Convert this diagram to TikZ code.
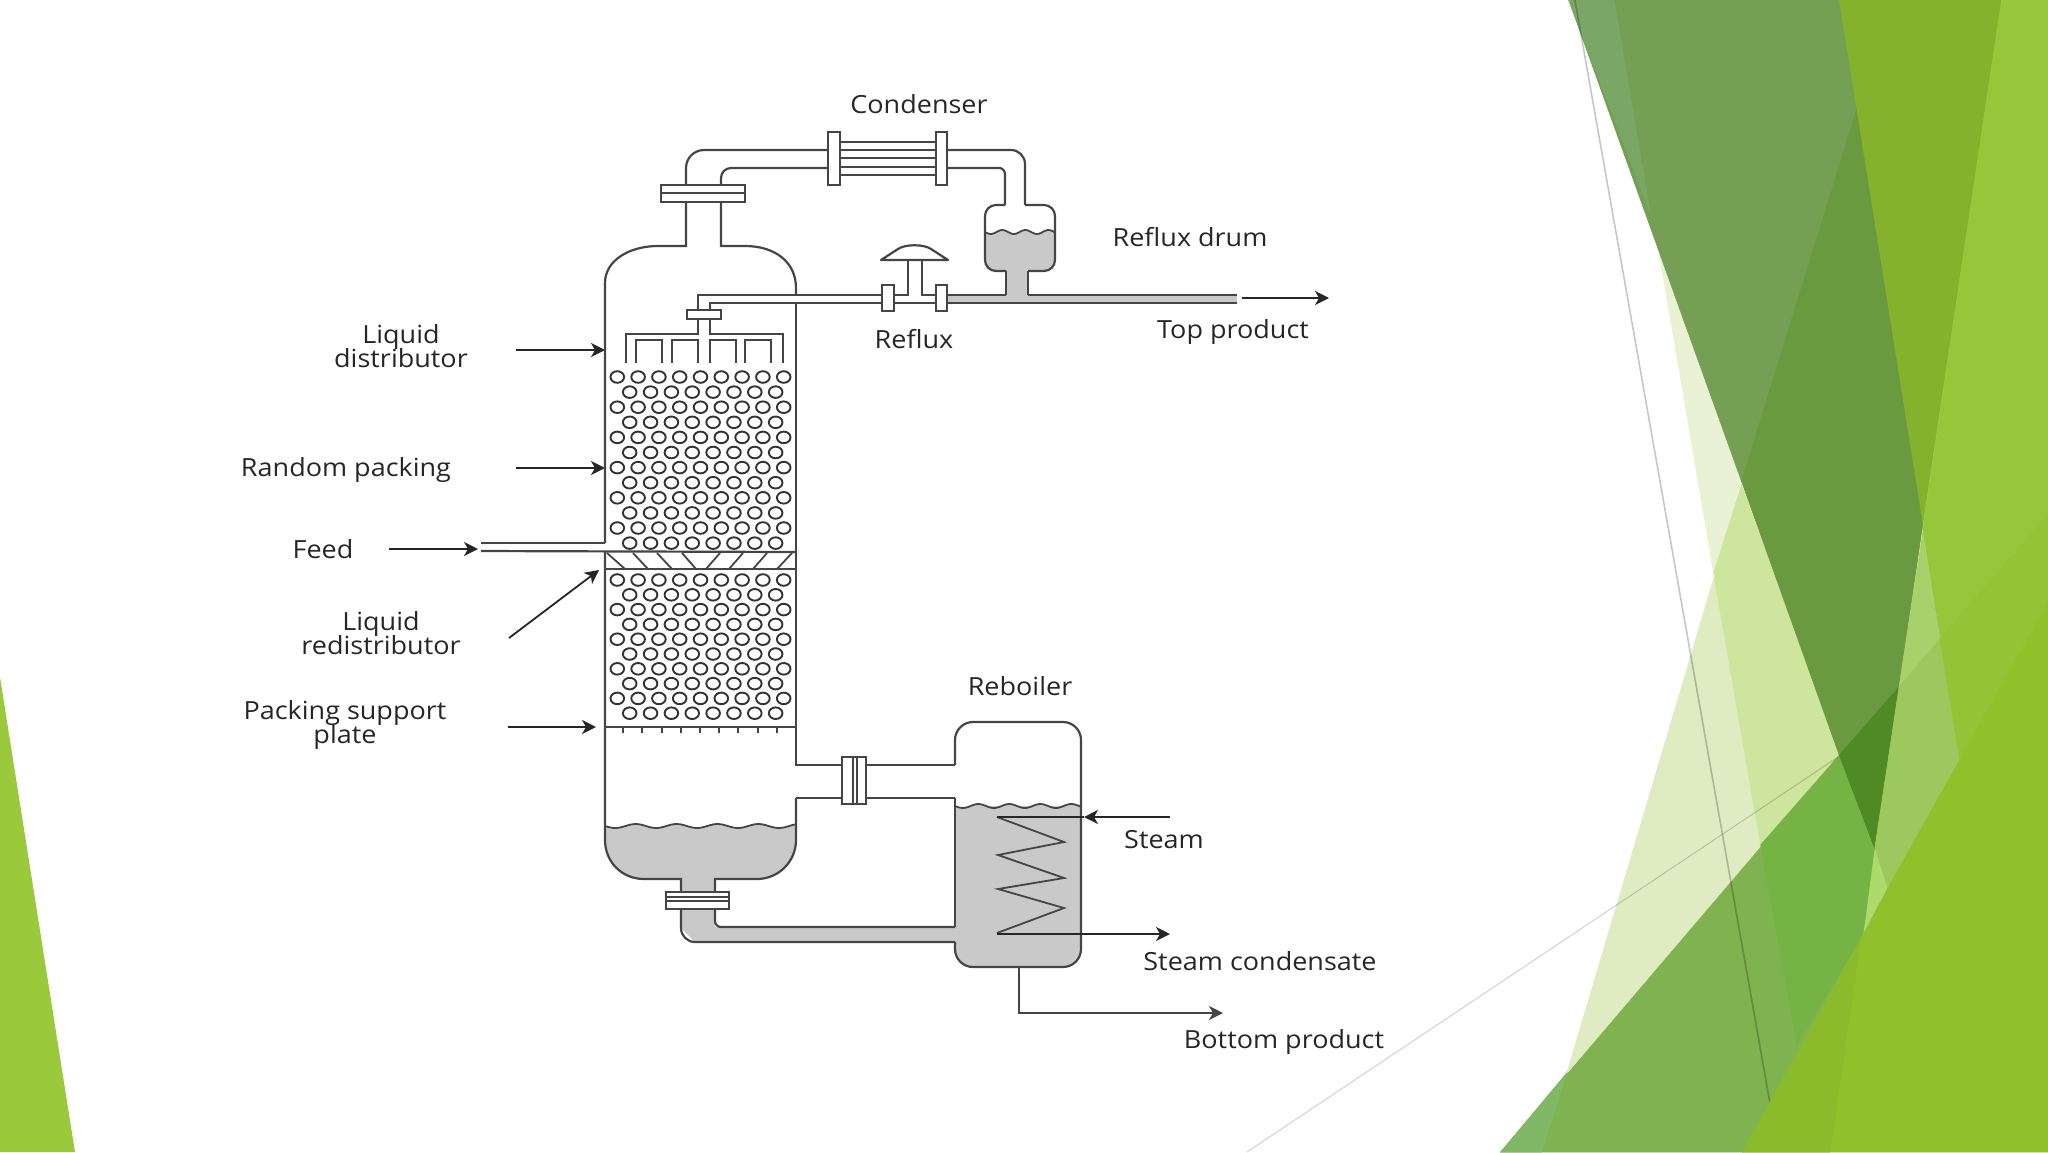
\documentclass[tikz,border=0pt]{standalone}
\usepackage{fontspec}
\setmainfont[FakeStretch=1.08]{Open Sans}
\usetikzlibrary{arrows.meta}
\definecolor{liquid}{HTML}{C9C9C9}
\definecolor{wall}{HTML}{454545}
\definecolor{pale}{HTML}{DFEBC0}
\definecolor{palest}{HTML}{E9F2D5}
\definecolor{midpale}{HTML}{CEE59E}
\definecolor{banda}{HTML}{7EB350}
\definecolor{bandb}{HTML}{75B345}
\definecolor{bandc}{HTML}{80B865}
\definecolor{topa}{HTML}{84B22D}
\definecolor{darka}{HTML}{75A053}
\definecolor{darkb}{HTML}{7BA766}
\definecolor{darkc}{HTML}{6A9A40}
\definecolor{darkd}{HTML}{4F8A25}
\definecolor{righta}{HTML}{96C63A}
\definecolor{rightb}{HTML}{92C436}
\definecolor{lighta}{HTML}{A9D16B}
\definecolor{lightb}{HTML}{9DC85E}
\definecolor{sliver}{HTML}{AEDA6C}
\definecolor{lowa}{HTML}{90C12B}
\definecolor{lowb}{HTML}{8ABB2A}
\definecolor{lefta}{HTML}{9ACA3C}
\tikzset{
  bg/.style={fill=#1, draw=#1, line width=0.6pt},
  lbl/.style={align=center, text=black!85, font=\fontsize{25}{24}\selectfont, inner sep=0pt},
  pipe/.style={draw=wall, line width=2.2pt},
  thin pipe/.style={draw=wall, line width=1.8pt},
  flange/.style={draw=wall, line width=2.2pt, fill=white},
  flow/.style={draw=black!85, line width=1.8pt, -{Stealth[length=14pt, width=14pt, inset=4pt]}},
  ring/.style={draw=black!80, line width=1.9pt},
}
\begin{document}
\begin{tikzpicture}[x=1pt, y=-1pt]
  \useasboundingbox (0, 0) rectangle (2048, 1152);
  % green slide background
  \fill [lefta] (0, 677) -- (75, 1152) -- (0, 1152) -- cycle;
  \begin{scope}[shift={(1480, 0)}, x=0.3622pt, y=-0.7347pt]
    \path [bg=pale] (722, 660) -- (992, 1028) -- (240, 1460) -- cycle;
    \path [bg=palest] (495, 345) -- (722, 655) -- (645, 780) -- cycle;
    \path [bg=midpale] (645, 780) -- (722, 660) -- (992, 1028) -- (775, 1150) -- cycle;
    \path [bg=banda] (57, 1568) -- (992, 1028) -- (1090, 1155) -- (1060, 1270) -- (725, 1568) -- cycle;
    \path [bg=bandb] (775, 1150) -- (992, 1028) -- (1090, 1155) -- (1060, 1270) -- (875, 1420) -- cycle;
    \path [bg=bandc] (240, 1460) -- (57, 1568) -- (170, 1568) -- cycle;
    \path [bg=topa] (990, 0) -- (1440, 0) -- (1222, 715) -- cycle;
    \path [bg=darka] (245, 0) -- (990, 0) -- (1039, 150) -- (722, 655) -- cycle;
    \path [bg=darkb] (245, 0) -- (370, 0) -- (470, 290) -- cycle;
    \path [bg=darkc] (1039, 150) -- (1222, 715) -- (1157, 935) -- (992, 1028) -- (722, 655) -- cycle;
    \path [bg=darkd] (992, 1028) -- (1157, 935) -- (1090, 1155) -- cycle;
    \path [bg=righta] (1440, 0) -- (1568, 0) -- (1568, 700) -- (1270, 870) -- (1222, 720) -- cycle;
    \path [bg=lighta] (1222, 725) -- (1270, 870) -- (1157, 935) -- cycle;
    \path [bg=lightb] (1157, 935) -- (1270, 870) -- (1325, 1035) -- (1125, 1210) -- (1090, 1155) -- cycle;
    \path [bg=rightb] (1270, 870) -- (1568, 700) -- (1568, 820) -- (1325, 1035) -- cycle;
    \path [bg=sliver] (1090, 1158) -- (1125, 1210) -- (1060, 1270) -- cycle;
    \draw [black, opacity=0.22, line width=1.6pt] (262, 0) -- (800, 1500);
    \path [bg=lowa] (725, 1568) -- (1060, 1270) -- (1125, 1210) -- (1568, 820) -- (1568, 1568) -- cycle;
    \path [bg=lowb] (725, 1568) -- (1050, 1280) -- (965, 1568) -- cycle;
  \end{scope}
  \draw [black, opacity=0.18, line width=1pt] (1247, 1152) -- (1838, 757);

  % draw fills so lines sit on top of them
  \fill [liquid] (605, 840) -- plot [domain=605:796, samples=70] (\x, {826+2*sin(8.8*(\x-605))}) -- (796, 840)
    .. controls (796, 862) and (778, 879) .. (757, 879) -- (715, 879) -- (715, 927) -- (955, 927)
    -- (955, 942) -- (695, 942) -- (681, 928) -- (681, 879) -- (644, 879)
    .. controls (622, 879) and (605, 862) .. (605, 840) -- cycle;
  \fill [liquid, rounded corners=18pt] (955, 967) -- (1081, 967) -- (1081, 806) -- (955, 806) -- cycle;
  \fill [liquid] (955, 806) -- plot [domain=955:1081, samples=60] (\x, {806+2*sin(11.6*(\x-955))}) -- (1081, 840) -- (955, 840) -- cycle;
  \fill [liquid] (985, 232) -- plot [domain=985:1055, samples=40] (\x, {232+2*sin(15.6*(\x-985))}) -- (1055, 262)
    .. controls (1055, 268) and (1050, 271) .. (1045, 271) -- (995, 271) .. controls (990, 271) and (985, 268) .. (985, 262) -- cycle;
  \fill [liquid] (1006, 265) rectangle (1028, 297);
  \fill [liquid] (947, 295) rectangle (1237, 303);

  % column shell
  \draw [pipe] (605, 543) -- (605, 283) .. controls (605, 260) and (630, 246) .. (658, 246) -- (686, 246) -- (686, 202);
  \draw [pipe] (721, 202) -- (721, 246) -- (745, 246) .. controls (775, 246) and (796, 262) .. (796, 288) -- (796, 295);
  \draw [pipe] (796, 303) -- (796, 765) -- (842, 765);
  \draw [pipe] (605, 551) -- (605, 840) .. controls (605, 862) and (622, 879) .. (644, 879) -- (681, 879) -- (681, 892);
  \draw [pipe] (796, 798) -- (796, 840) .. controls (796, 862) and (778, 879) .. (757, 879) -- (715, 879) -- (715, 892);
  \draw [pipe] (796, 798) -- (842, 798);
  \draw [thin pipe] plot [domain=605:796, samples=70] (\x, {826+2*sin(8.8*(\x-605))});

  % overhead line and condenser
  \draw [pipe, rounded corners=18pt] (686, 185) -- (686, 150) -- (828, 150);
  \draw [pipe, rounded corners=10pt] (721, 185) -- (721, 168) -- (828, 168);
  \draw [pipe, rounded corners=14pt] (947, 150) -- (1025, 150) -- (1025, 205);
  \draw [pipe, rounded corners=6pt] (947, 168) -- (1005, 168) -- (1005, 205);
  \draw [flange] (661, 185) rectangle (745, 202);
  \draw [pipe] (661, 193) -- (745, 193);
  \draw [thin pipe] (840, 142) -- (936, 142);
  \draw [pipe] (840, 150) -- (936, 150);
  \draw [thin pipe] (840, 158) -- (936, 158);
  \draw [pipe] (840, 167) -- (936, 167);
  \draw [thin pipe] (840, 175) -- (936, 175);
  \draw [flange] (828, 132) rectangle (840, 185);
  \draw [flange] (936, 132) rectangle (947, 185);

  % reflux drum
  \draw [pipe, rounded corners=11pt] (1005, 205) -- (985, 205) -- (985, 271) -- (1006, 271);
  \draw [pipe, rounded corners=11pt] (1025, 205) -- (1055, 205) -- (1055, 271) -- (1028, 271);
  \draw [pipe] (1006, 271) -- (1006, 295);
  \draw [pipe] (1028, 271) -- (1028, 295);
  \draw [thin pipe] plot [domain=985:1055, samples=40] (\x, {232+2*sin(15.6*(\x-985))});

  % reflux line with valve
  \draw [pipe] (947, 295) -- (1006, 295);
  \draw [pipe] (1028, 295) -- (1237, 295);
  \draw [pipe] (947, 303) -- (1237, 303);
  \draw [pipe] (698, 310) -- (698, 295) -- (882, 295);
  \draw [pipe] (710, 310) -- (710, 303) -- (882, 303);
  \draw [pipe] (894, 295) -- (908, 295) -- (908, 260);
  \draw [pipe] (936, 295) -- (922, 295) -- (922, 260);
  \draw [pipe] (894, 303) -- (936, 303);
  \draw [flange] (882, 285) rectangle (894, 311);
  \draw [flange] (936, 285) rectangle (947, 311);
  \draw [pipe, line join=round] (881, 260) -- (948, 260) -- (931, 249) .. controls (924, 244) and (905, 244) .. (898, 249) -- cycle;

  % liquid distributor
  \draw [flange] (687, 310) rectangle (721, 319);
  \draw [pipe] (698, 319) -- (698, 334) -- (626, 334) -- (626, 363);
  \draw [pipe] (710, 319) -- (710, 334) -- (783, 334) -- (783, 363);
  \draw [pipe] (636, 363) -- (636, 340) -- (662, 340) -- (662, 363);
  \draw [pipe] (672, 363) -- (672, 340) -- (698, 340) -- (698, 363);
  \draw [pipe] (710, 363) -- (710, 340) -- (736, 340) -- (736, 363);
  \draw [pipe] (745, 363) -- (745, 340) -- (771, 340) -- (771, 363);

  % random packing
  \foreach \row in {0, 2, 4, 6, 8, 10} {
    \foreach \col in {0, ..., 8}
      \draw [ring] ({617.3+20.8*\col}, {377+15.1*\row}) ellipse [x radius=6.8, y radius=5.8];
    \foreach \col in {0, ..., 7}
      \draw [ring] ({629.7+20.85*\col}, {392.1+15.1*\row}) ellipse [x radius=6.8, y radius=5.8];
  }
  \foreach \row in {0, 2, 4, 6, 8} {
    \foreach \col in {0, ..., 8}
      \draw [ring] ({617.3+20.8*\col}, {580+14.8*\row}) ellipse [x radius=6.8, y radius=5.8];
    \foreach \col in {0, ..., 7}
      \draw [ring] ({629.7+20.85*\col}, {594.8+14.8*\row}) ellipse [x radius=6.8, y radius=5.8];
  }

  % liquid redistributor
  \draw [pipe] (481, 543) -- (605, 543);
  \draw [pipe] (481, 551) -- (796, 552);
  \draw [pipe] (605, 569) -- (796, 569);
  \draw [thin pipe] (607, 553) -- (625, 569);
  \draw [thin pipe] (633, 553) -- (648, 569);
  \draw [thin pipe] (657, 553) -- (672, 569);
  \draw [thin pipe] (682, 553) -- (696, 569);
  \draw [thin pipe] (720, 553) -- (706, 569);
  \draw [thin pipe] (743, 553) -- (729, 569);
  \draw [thin pipe] (767, 553) -- (753, 569);
  \draw [thin pipe] (792, 553) -- (777, 569);

  % packing support plate
  \draw [pipe] (605, 727) -- (796, 727);
  \foreach \tick in {623, 642, 662, 681, 700, 719, 738, 758, 777}
    \draw [thin pipe] (\tick, 727) -- (\tick, 733);

  % bottom flange and line to reboiler
  \draw [flange] (666, 892) rectangle (729, 909);
  \draw [pipe] (666, 897) -- (729, 897);
  \draw [pipe] (666, 901) -- (729, 901);
  \draw [pipe, rounded corners=14pt] (681, 909) -- (681, 942) -- (955, 942);
  \draw [pipe, rounded corners=6pt] (715, 909) -- (715, 927) -- (955, 927);

  % vapour return
  \draw [pipe] (866, 765) -- (955, 765);
  \draw [pipe] (866, 798) -- (955, 798);
  \draw [flange] (842, 757) rectangle (866, 804);
  \draw [pipe] (853, 757) -- (853, 804);
  \draw [pipe] (857, 757) -- (857, 804);

  % reboiler
  \draw [pipe, rounded corners=18pt] (955, 765) -- (955, 722) -- (1081, 722) -- (1081, 967) -- (955, 967) -- (955, 942);
  \draw [pipe] (955, 798) -- (955, 927);
  \draw [thin pipe] plot [domain=955:1081, samples=60] (\x, {806+2*sin(11.6*(\x-955))});
  \draw [thin pipe, line join=miter] (997, 817) -- (1064, 842) -- (998, 855) -- (1064, 878) -- (998, 889) -- (1064, 908) -- (997, 933);

  % end points of the arrows
  \coordinate (steamin) at (1170, 817);
  \coordinate (coiltop) at (997, 817);
  \coordinate (steamtip) at (1084, 817);
  \coordinate (coilbottom) at (997, 934);
  \coordinate (condensateout) at (1170, 934);
  \coordinate (reboilerbottom) at (1019, 967);
  \coordinate (bottomout) at (1223, 1013);
  \coordinate (topstart) at (1242, 298);
  \coordinate (topout) at (1329, 298);
  \coordinate (feedstart) at (389, 549);
  \coordinate (feedtip) at (478, 549);
  \coordinate (distributorstart) at (516, 350);
  \coordinate (distributortip) at (605, 350);
  \coordinate (packingstart) at (516, 468);
  \coordinate (packingtip) at (605, 468);
  \coordinate (redistributorstart) at (509, 638);
  \coordinate (redistributortip) at (599, 570);
  \coordinate (platestart) at (508, 727);
  \coordinate (platetip) at (596, 727);

  % arrows
  \draw [thin pipe, black!85] (steamtip) -- (coiltop);
  \draw [flow] (steamin) -- (steamtip);
  \draw [flow] (coilbottom) -- (condensateout);
  \draw [flow, draw=wall] (reboilerbottom) |- (bottomout);
  \draw [flow] (topstart) -- (topout);
  \draw [flow] (feedstart) -- (feedtip);
  \draw [flow] (distributorstart) -- (distributortip);
  \draw [flow] (packingstart) -- (packingtip);
  \draw [flow] (redistributorstart) -- (redistributortip);
  \draw [flow] (platestart) -- (platetip);

  % labels
  \node [lbl] (condenser) at (919, 104) {Condenser};
  \node [lbl] (refluxdrum) at (1190, 237) {Reflux drum};
  \node [lbl] (topproduct) at (1233, 332) {Top product};
  \node [lbl] (reflux) at (914, 339) {Reflux};
  \node [lbl] (distributor) at (401, 346) {Liquid\\[-2.5pt]distributor};
  \node [lbl] (packing) at (346, 470) {Random packing};
  \node [lbl] (feed) at (323, 549) {Feed};
  \node [lbl] (redistributor) at (381, 633) {Liquid\\[-2.5pt]redistributor};
  \node [lbl] (plate) at (345, 725) {Packing support\\[-2.5pt]plate};
  \node [lbl] (reboiler) at (1020, 686) {Reboiler};
  \node [lbl] (steam) at (1164, 840) {Steam};
  \node [lbl] (condensate) at (1260, 961) {Steam condensate};
  \node [lbl] (bottomproduct) at (1284, 1042) {Bottom product};
\end{tikzpicture}
\end{document}
